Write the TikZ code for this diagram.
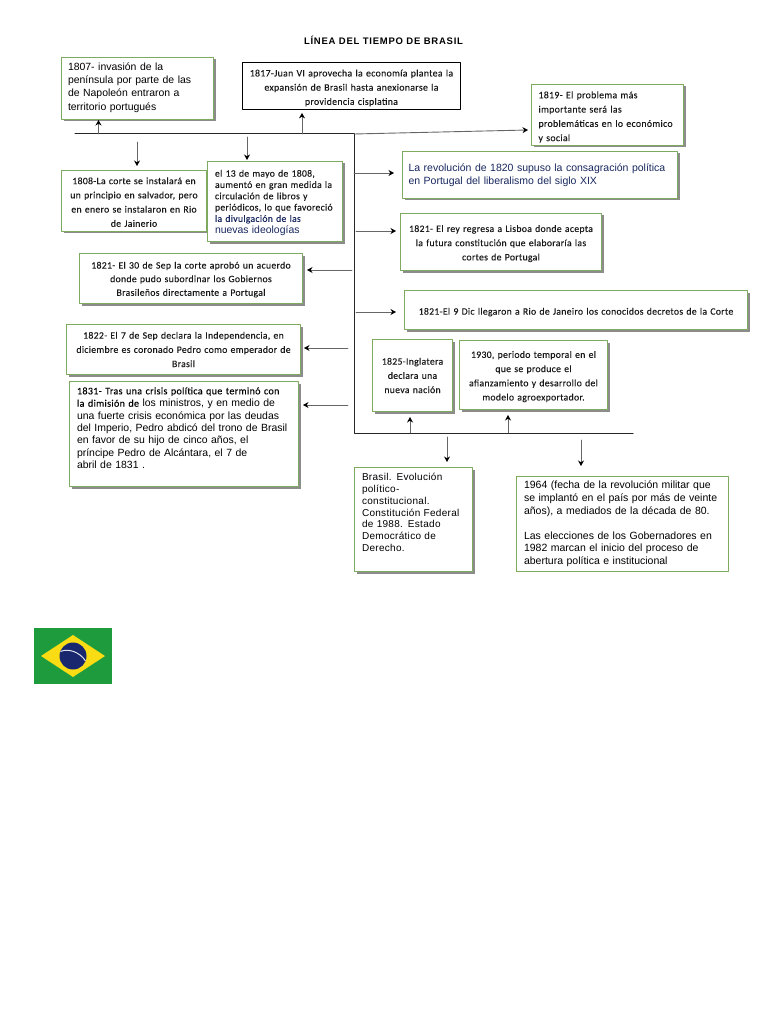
\documentclass[tikz,border=0pt]{standalone}
\usepackage{fontspec}
\setmainfont{Liberation Sans}
\newfontfamily\calfont[LetterSpace=3,FakeBold=0.08]{Carlito}
\usetikzlibrary{arrows.meta, positioning, calc, shadows}

\definecolor{boxgreen}{RGB}{125,170,95}
\definecolor{navytext}{RGB}{25,40,95}
\definecolor{flaggreen}{RGB}{30,155,60}
\definecolor{flagyellow}{RGB}{250,220,20}
\definecolor{flagblue}{RGB}{25,40,110}

\newcommand{\padtop}[1]{\rule{0pt}{\dimexpr 7pt+#1pt\relax}}
\newcommand{\padbot}[1]{\rule[-\dimexpr 2pt+#1pt\relax]{0pt}{\dimexpr 2pt+#1pt\relax}}

\begin{document}
\begin{tikzpicture}[x=1pt, y=-1pt, >=Stealth, line cap=round, line join=round]
	
	\tikzset{
		timeline/.style={line width=1pt, black!85},
		arrowln/.style={->, line width=0.9pt, black!60, >={Stealth[length=5.5pt,width=6pt,black]}},
		basebox/.style={anchor=north west, fill=white, inner xsep=5pt, inner ysep=0pt},
		gbox/.style={basebox, draw=boxgreen, line width=1pt,
			drop shadow={shadow xshift=2pt, shadow yshift=-2pt, fill=black!45, opacity=1}},
		flatbox/.style={basebox, draw=boxgreen, line width=1pt},
		blackbox/.style={basebox, draw=black, line width=0.9pt},
		size/.style 2 args={text width=#1pt-2*\pgfkeysvalueof{/pgf/inner xsep}, minimum height=#2pt},
		cal/.style={font=\calfont\fontsize{9.75}{14.2}\selectfont, text=black!90, align=center},
		arial/.style={font=\fontsize{10.45}{13.2}\selectfont, text=black, align=left}
	}
	
	\useasboundingbox (0,0) rectangle (768,1024);
	
	\node[font=\bfseries\fontsize{9.5}{10}\selectfont\addfontfeature{LetterSpace=8}, text=black] (title) at (383.5,40.5) {LÍNEA DEL TIEMPO DE BRASIL};
	
	% left of the line
	\node[gbox, arial, inner xsep=6.5pt, size={152}{62}] (n1807) at (61,57) {1807- invasión de la\\península por parte de las\\de Napoleón entraron a\\territorio portugués\padbot{2}};
	\node[gbox, cal, size={145}{61}] (n1808) at (61,170) {\padtop{2}1808-La corte se instalará en\\un principio en salvador, pero\\en enero se instalaron en Rio\\de Jainerio};
	\node[gbox, cal, align=left, font=\calfont\fontsize{9.7}{11.3}\selectfont, inner xsep=7.5pt, size={135}{80}] (n1808b) at (207,161) {\padtop{2}el 13 de mayo de 1808,\\aumentó en gran medida la\\circulación de libros y\\periódicos, lo que favoreció\\{\color{navytext}la divulgación de las}\\{\normalfont\fontsize{10.45}{11.3}\selectfont\color{navytext}nuevas ideologías}};
	\node[gbox, cal, font=\calfont\fontsize{9.75}{13.6}\selectfont, size={223}{50}] (n1821a) at (79,253) {\padtop{2}1821- El 30 de Sep la corte aprobó un acuerdo\\donde pudo subordinar los Gobiernos\\Brasileños directamente a Portugal};
	\node[gbox, cal, inner xsep=2pt, size={234}{50}] (n1822) at (66,324) {1822- El 7 de Sep declara la Independencia, en\\diciembre es coronado Pedro como emperador de\\Brasil};
	\node[gbox, arial, font=\fontsize{10.45}{12.4}\selectfont, inner xsep=7.5pt, size={229}{105}] (n1831) at (69,381) {{\calfont\fontsize{10.1}{12.4}\selectfont 1831- Tras una crisis política que terminó con}\\{\calfont\fontsize{10.1}{12.4}\selectfont la dimisión de} los ministros, y en medio de\\una fuerte crisis económica por las deudas\\del Imperio, Pedro abdicó del trono de Brasil\\en favor de su hijo de cinco años, el\\príncipe Pedro de Alcántara, el 7 de\\abril de 1831 .\padbot{10}};
	
	% top and right of the line
	\node[blackbox, cal, font=\calfont\fontsize{9.85}{14.2}\selectfont, inner xsep=2pt, size={218}{47}] (n1817) at (242,62) {\padtop{4}1817-Juan VI aprovecha la economía plantea la\\expansión de Brasil hasta anexionarse la\\providencia cisplatina};
	\node[gbox, cal, align=left, font=\calfont\fontsize{9.85}{14.3}\selectfont, inner xsep=7pt, size={152}{61}] (n1819) at (531,84) {\padtop{4}1819- El problema más\\importante será las\\problemáticas en lo económico\\y social};
	\node[gbox, arial, text=navytext, inner xsep=6pt, font=\fontsize{10.5}{13.4}\selectfont, size={275}{47}] (n1820) at (402,151) {La revolución de 1820 supuso la consagración política\\en Portugal del liberalismo del siglo XIX};
	\node[gbox, cal, size={201}{57}] (n1821b) at (400,213) {\padtop{3}1821- El rey regresa a Lisboa donde acepta\\la futura constitución que elaboraría las\\cortes de Portugal};
	\node[gbox, cal, size={343}{39}] (n1821c) at (404,290) {\padtop{4}1821-El 9 Dic llegaron a Rio de Janeiro los conocidos decretos de la Corte};
	\node[gbox, cal, inner xsep=2pt, size={80}{72}] (n1825) at (372,339) {1825-Inglatera\\declara una\\nueva nación};
	\node[gbox, cal, inner xsep=2pt, size={148}{69}] (n1930) at (459,340) {\padtop{3}1930, periodo temporal en el\\que se produce el\\afianzamiento y desarrollo del\\modelo agroexportador.};
	
	% below the line
	\node[gbox, inner xsep=7.5pt, size={118}{104}, align=left, font=\fontsize{10}{11.8}\selectfont\addfontfeature{LetterSpace=3}, text=black] (n1988) at (354,467) {Brasil. Evolución\\político-\\constitucional.\\Constitución Federal\\de 1988. Estado\\Democrático de\\Derecho.\padbot{12}};
	\node[flatbox, arial, inner xsep=7.5pt, size={212}{95}, font=\fontsize{10.5}{12.6}\selectfont] (n1964) at (516,476) {1964 (fecha de la revolución militar que\\se implantó en el país por más de veinte\\años), a mediados de la década de 80.\\[12.6pt]Las elecciones de los Gobernadores en\\1982 marcan el inicio del proceso de\\abertura política e institucional};
	
	% timeline
	\coordinate (lineA) at (75,134);
	\coordinate (lineB) at (354,134);
	\coordinate (lineC) at (354,433);
	\coordinate (lineD) at (633,433);
	\draw[timeline] (lineA) -- (lineB) -- (lineC) -- (lineD);
	
	\coordinate (from1807) at (98.5,134);
	\coordinate (from1817) at (302,134);
	\coordinate (from1808) at (137,142);
	\coordinate (from1808b) at (247,137);
	\coordinate (tip1819) at (528,130);
	\coordinate (from1820) at (354,173);
	\coordinate (from1821b) at (356,231);
	\coordinate (from1821c) at (356,312);
	\coordinate (from1821a) at (352,270);
	\coordinate (from1822) at (348,348);
	\coordinate (from1831) at (348,405);
	\coordinate (from1825) at (410,433);
	\coordinate (from1930) at (508,433);
	\coordinate (from1988) at (447,437);
	\coordinate (from1964) at (581,440);
	
	\draw[arrowln] (from1807) -- (from1807 |- n1807.south);
	\draw[arrowln, shorten >=3pt] (from1817) -- (from1817 |- n1817.south);
	\draw[arrowln, shorten >=4pt] (from1808) -- (from1808 |- n1808.north);
	\draw[arrowln, shorten >=1pt] (from1808b) -- (from1808b |- n1808b.north);
	\draw[arrowln] (lineB) -- (tip1819);
	\draw[arrowln, shorten >=8pt] (from1820) -- (from1820 -| n1820.west);
	\draw[arrowln, shorten >=4pt] (from1821b) -- (from1821b -| n1821b.west);
	\draw[arrowln, shorten >=8pt] (from1821c) -- (from1821c -| n1821c.west);
	\draw[arrowln, shorten >=4pt] (from1821a) -- (from1821a -| n1821a.east);
	\draw[arrowln, shorten >=3pt] (from1822) -- (from1822 -| n1822.east);
	\draw[arrowln, shorten >=4pt] (from1831) -- (from1831 -| n1831.east);
	\draw[arrowln, shorten >=5pt] (from1825) -- (from1825 |- n1825.south);
	\draw[arrowln, shorten >=5pt] (from1930) -- (from1930 |- n1930.south);
	\draw[arrowln, shorten >=5pt] (from1988) -- (from1988 |- n1988.north);
	\draw[arrowln, shorten >=10pt] (from1964) -- (from1964 |- n1964.north);
	
	% flag
	\fill[flaggreen] (34,628) rectangle (112,684);
	\fill[flagyellow] (41,656) -- (73,635) -- (105,656) -- (73,677) -- cycle;
	\fill[flagblue] (73,656) circle (13.5);
	\draw[white!85!flagblue, line width=1pt, line cap=butt] (60.5,651.5) .. controls (68,648) and (80,652) .. (85.5,661);
	
\end{tikzpicture}
\end{document}
